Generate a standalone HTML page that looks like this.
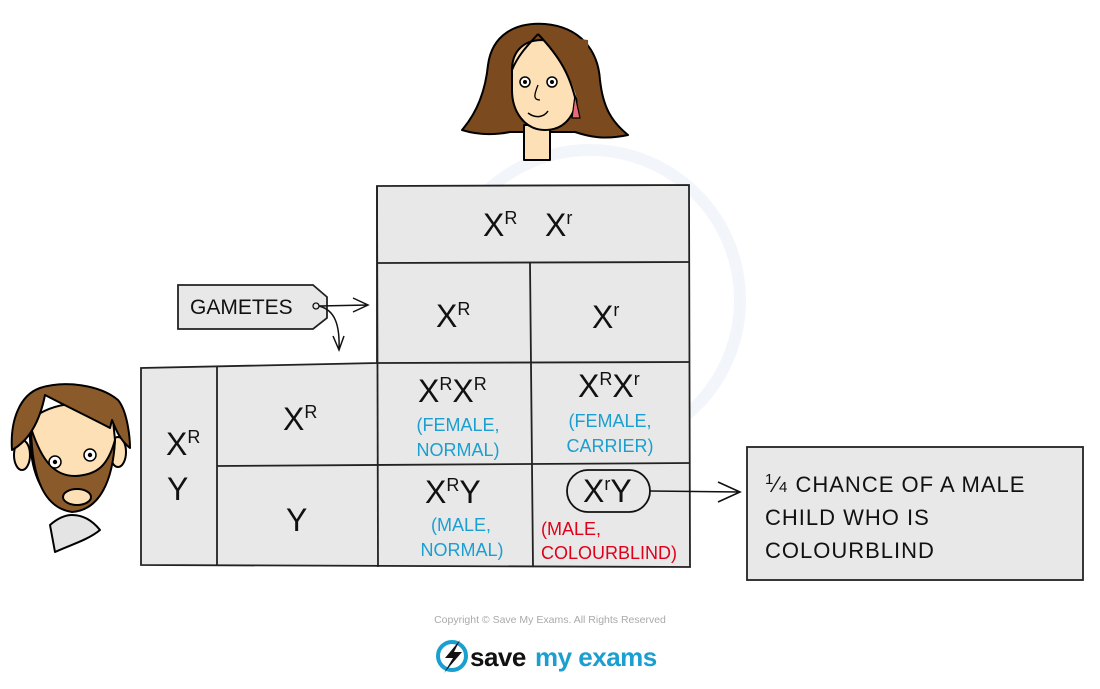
<!DOCTYPE html>
<html><head><meta charset="utf-8"><style>
html,body{margin:0;padding:0;background:#fff;}
svg{display:block;font-family:"Liberation Sans",sans-serif;}
</style></head><body>
<svg width="1100" height="689" viewBox="0 0 1100 689" xmlns="http://www.w3.org/2000/svg">
<!-- watermark -->
<circle cx="590" cy="300" r="150" fill="none" stroke="#f2f6fa" stroke-width="12"/>
<!-- woman -->
<g stroke="#000" stroke-width="2" stroke-linejoin="round">
<path d="M462,130 C475,115 485,95 488,65 C492,35 515,22 545,24 C580,27 598,50 600,80 C603,108 612,122 628,135 C605,140 590,137 575,132 L510,132 C495,135 478,135 462,130Z" fill="#7b4a1e"/>
<path d="M524,125 L524,160 L550,160 L550,125Z" fill="#fde0b5"/>
<path d="M512,70 C512,50 525,40 542,40 C565,42 578,60 578,85 C578,115 565,130 545,130 C525,130 512,112 512,90Z" fill="#fde0b5"/>
<path d="M538,34 C558,55 572,75 580,110 L590,110 L588,40 Z" fill="#7b4a1e" stroke="none"/>
<path d="M538,34 C558,55 572,75 578,112" fill="none"/>
<path d="M538,34 C528,45 518,55 512,70" fill="none"/>
<circle cx="525" cy="82" r="5" fill="#fff" stroke-width="1.5"/><circle cx="552" cy="82" r="5" fill="#fff" stroke-width="1.5"/>
<path d="M528,113 C536,119 544,117 548,111" fill="none" stroke-width="1.5"/>
<path d="M538,85 C534,95 533,100 540,100" fill="none" stroke-width="1.3"/>
<path d="M575,95 L580,118 L572,118Z" fill="#e86a75" stroke-width="1.2"/>
</g>
<circle cx="525" cy="82" r="2"/><circle cx="552" cy="82" r="2"/>
<!-- man -->
<g stroke="#000" stroke-width="2" stroke-linejoin="round">
<path d="M50,525 C58,518 65,515 72,515 C82,515 92,520 100,530 C88,540 70,545 55,552 Z" fill="#e4e4e4"/>
<ellipse cx="22" cy="455" rx="8" ry="15" fill="#fde0b5"/>
<ellipse cx="118" cy="452" rx="8" ry="15" fill="#fde0b5"/>
<path d="M30,420 C28,470 40,500 70,510 C100,508 112,480 115,440 L112,410 C90,400 55,400 30,420Z" fill="#fde0b5"/>
<path d="M31,428 C32,480 45,508 72,512 C100,510 113,480 115,440 C108,465 98,475 75,476 C55,476 42,462 31,428Z" fill="#8b5a2b"/>
<path d="M12,450 C10,420 20,395 40,388 C65,380 100,385 118,400 C128,412 130,440 130,448 C120,440 116,430 112,420 L110,428 C95,420 70,408 45,395 C40,420 30,440 12,450Z" fill="#8b5a2b"/>
<ellipse cx="77" cy="497" rx="14" ry="8" fill="#fde0b5"/>
<circle cx="55" cy="462" r="6" fill="#fff" stroke-width="1.5"/><circle cx="90" cy="455" r="6" fill="#fff" stroke-width="1.5"/>
</g>
<circle cx="55" cy="462" r="2.2"/><circle cx="90" cy="455" r="2.2"/>
<!-- grid -->
<g stroke="#222" stroke-width="1.8" fill="#e8e8e8">
<path d="M377,186 L689,185 L690,567 L141,565 L141,368 L377,363 Z"/>
<line x1="377" y1="186" x2="378" y2="567"/>
<line x1="377" y1="263" x2="689" y2="262"/>
<line x1="377" y1="363" x2="690" y2="362"/>
<line x1="217" y1="466" x2="690" y2="463"/>
<line x1="530" y1="263" x2="533" y2="567"/>
<line x1="217" y1="367" x2="217" y2="566"/>
</g>
<g font-size="32" fill="#111">
<text x="483" y="236">X<tspan font-size="18" dy="-12">R</tspan></text>
<text x="545" y="236">X<tspan font-size="18" dy="-12">r</tspan></text>
<text x="436" y="327">X<tspan font-size="18" dy="-12">R</tspan></text>
<text x="592" y="328">X<tspan font-size="18" dy="-12">r</tspan></text>
<text x="283" y="430">X<tspan font-size="18" dy="-12">R</tspan></text>
<text x="166" y="455">X<tspan font-size="18" dy="-12">R</tspan></text>
<text x="167" y="500">Y</text>
<text x="286" y="531">Y</text>
<text x="418" y="402">X<tspan font-size="18" dy="-12">R</tspan><tspan dy="12">X</tspan><tspan font-size="18" dy="-12">R</tspan></text>
<text x="578" y="397">X<tspan font-size="18" dy="-12">R</tspan><tspan dy="12">X</tspan><tspan font-size="18" dy="-12">r</tspan></text>
<text x="425" y="503">X<tspan font-size="18" dy="-12">R</tspan><tspan dy="12">Y</tspan></text>
<text x="583" y="502">X<tspan font-size="18" dy="-12">r</tspan><tspan dy="12">Y</tspan></text>
</g>
<g font-size="18" fill="#1a9fd0" text-anchor="middle">
<text x="458" y="431">(FEMALE,</text><text x="458" y="456">NORMAL)</text>
<text x="610" y="427">(FEMALE,</text><text x="610" y="452">CARRIER)</text>
<text x="461" y="531">(MALE,</text><text x="462" y="556">NORMAL)</text>
</g>
<g font-size="18" fill="#e0001a"><text x="541" y="535">(MALE,</text><text x="541" y="559">COLOURBLIND)</text></g>
<rect x="567" y="470" width="83" height="42" rx="21" fill="none" stroke="#111" stroke-width="1.8"/>
<path d="M650,491 L740,492 M718,482 L740,492 L718,502" fill="none" stroke="#111" stroke-width="1.6"/>
<!-- gametes tag -->
<path d="M178,285 L313,285 L327,297 L327,318 L313,329 L178,329 Z" fill="#e8e8e8" stroke="#222" stroke-width="1.8"/>
<text x="190" y="314" font-size="21" fill="#111">GAMETES</text>
<circle cx="316" cy="306" r="3" fill="none" stroke="#111" stroke-width="1.3"/>
<path d="M319,306 L368,305 M353,298 L368,305 L353,312 M319,306 C335,310 340,325 339,350 M333,336 L339,350 L344,336" fill="none" stroke="#111" stroke-width="1.5"/>
<!-- right box -->
<rect x="747" y="447" width="336" height="133" fill="#e8e8e8" stroke="#222" stroke-width="1.8"/>
<g font-size="22" fill="#111" letter-spacing="1">
<text x="765" y="492"><tspan font-size="15" dy="-8">1</tspan><tspan font-size="22" dy="8">⁄</tspan><tspan font-size="15">4</tspan> CHANCE  OF  A  MALE</text>
<text x="765" y="525">CHILD  WHO  IS</text>
<text x="765" y="558">COLOURBLIND</text>
</g>
<!-- footer -->
<text x="550" y="623" font-size="10.5" fill="#aaa" text-anchor="middle">Copyright © Save My Exams. All Rights Reserved</text>
<circle cx="452" cy="656" r="14" fill="none" stroke="#1a9fd0" stroke-width="4"/>
<path d="M460,640 L445,658 L453,658 L444,673 L462,652 L454,652 Z" fill="#111"/>
<text x="470" y="666" font-size="26" font-weight="bold" fill="#111" letter-spacing="-0.5">save</text>
<text x="535" y="666" font-size="26" font-weight="bold" fill="#1a9fd0" letter-spacing="-0.5">my exams</text>
</svg>
</body></html>
